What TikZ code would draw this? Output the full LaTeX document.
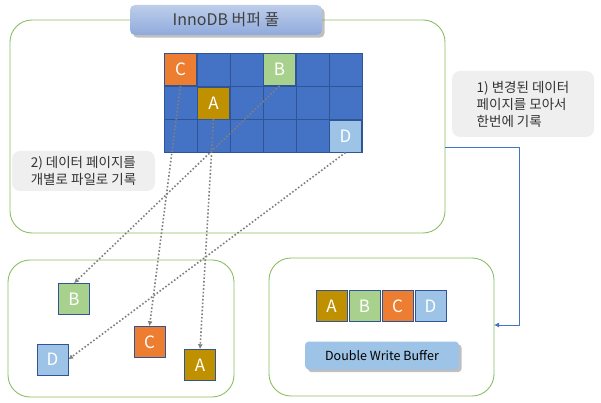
\documentclass[tikz,border=0pt]{standalone}
\usepackage{fontspec}
\setmainfont{Noto Sans CJK KR}
\usetikzlibrary{arrows.meta,shadows}
\definecolor{gridb}{HTML}{4472C4}
\definecolor{gridl}{HTML}{2F5597}
\definecolor{pc}{HTML}{ED7D31}
\definecolor{pb}{HTML}{A9D18E}
\definecolor{pa}{HTML}{BF9000}
\definecolor{pd}{HTML}{9DC3E6}
\definecolor{grn}{HTML}{8CBF64}
\definecolor{lbl}{HTML}{EFEFEF}
\tikzset{
 area/.style={draw=grn,line width=0.9pt,rounded corners=22pt},
 page/.style={draw=gridl,line width=0.5pt,minimum width=31pt,minimum height=31pt,inner sep=0pt,text=white,font=\fontsize{17}{17}\selectfont},
 cell/.style={fill=gridb,draw=gridl,line width=0.8pt},
 lab/.style={fill=lbl,rounded corners=8pt,align=left,text=black!80,font=\fontsize{13.5}{17}\selectfont,inner sep=4pt},
 dots/.style={draw=gray,line width=1.6pt,dotted,-{Latex[length=5pt,width=5pt]}},
}
\begin{document}
\begin{tikzpicture}[x=1pt,y=-1pt]
\useasboundingbox (0,0) rectangle (601,403);
\draw[area] (10,20) rectangle (445,233);
\draw[area] (8,260) rectangle (234,397);
\draw[area] (269,258) rectangle (494,396);
\node[drop shadow,top color=gridb!35,bottom color=gridb!60,rounded corners=5pt,minimum width=192pt,minimum height=30pt,font=\fontsize{16}{16}\selectfont,text=black!75] (title) at (226,20) {InnoDB 버퍼 풀};
% grid
\foreach \r in {0,1,2}{\foreach \c in {0,...,5}{
 \draw[cell] (164+33*\c,53+33.3*\r) rectangle ++(33,33.3);}}
\node[page,fill=pc,minimum width=32pt,minimum height=32pt] (gc) at (180.5,69.7) {C};
\node[page,fill=pb,minimum width=32pt,minimum height=32pt] (gb) at (279.5,69.7) {B};
\node[page,fill=pa,minimum width=32pt,minimum height=32pt] (ga) at (213.5,103) {A};
\node[page,fill=pd,minimum width=32pt,minimum height=32pt] (gd) at (345.5,136.3) {D};
\node[lab,minimum width=142pt,minimum height=66pt] (l1) at (523,104) {1) 변경된 데이터\\페이지를 모아서\\한번에 기록};
\node[lab,minimum width=143pt,minimum height=40pt] (l2) at (83.5,171) {2) 데이터 페이지를\\개별로 파일로 기록};
% bottom left pages
\node[page,fill=pb] (fb) at (74,299) {B};
\node[page,fill=pd] (fd) at (52.5,359.5) {D};
\node[page,fill=pc] (fc) at (149.5,342) {C};
\node[page,fill=pa] (fa) at (200,365) {A};
% right dwb
\node[page,fill=pa] (da) at (331.5,306) {A};
\node[page,fill=pb] (db) at (364.5,306) {B};
\node[page,fill=pc] (dc) at (397.5,306) {C};
\node[page,fill=pd] (dd) at (430.5,306) {D};
\node[drop shadow,fill=pd,rounded corners=4pt,minimum width=154pt,minimum height=28pt,font=\fontsize{12.5}{12.5}\selectfont] (dwb) at (382,355.5) {Double Write Buffer};
\coordinate (s1) at (445,147);
\coordinate (k1) at (519,147);
\coordinate (e1) at (494,325);
\draw[gridb,line width=0.8pt,-{Latex[length=5pt,width=5pt]}] (s1) -- (k1) |- (e1);
\draw[dots] (gc.south) -- (fc.north);
\draw[dots] (gb.south) -- (fb.north);
\draw[dots] (ga.south) -- (fa.north);
\draw[dots] (gd.south) -- (fd.east);
\end{tikzpicture}
\end{document}
